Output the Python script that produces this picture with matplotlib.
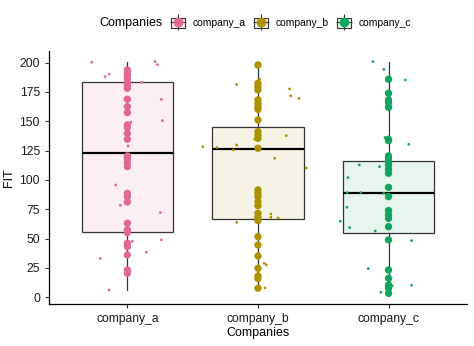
import numpy as np
import matplotlib.pyplot as plt
from matplotlib.colors import to_rgba
from matplotlib.lines import Line2D
from matplotlib.patches import Patch

plt.rcParams['font.family'] = ['Liberation Sans', 'DejaVu Sans']

companies = ['company_a', 'company_b', 'company_c']
colors = ['#E0698F', '#AD9200', '#0FA55F']

# box statistics
q1 = [55.9, 67.0, 54.5]
med = [122.6, 126.4, 88.6]
q3 = [183.2, 145.1, 116.4]
whislo = [6.2, 7.7, 1.1]
whishi = [200.3, 198.0, 200.3]

# big centred dots (dotplot)
dots_a = [193.8, 191.5, 189.2, 185.8, 182.4, 180.1, 178.1, 168.8, 162.5, 157.4,
          146.9, 144.9, 139.8, 134.7, 120.5, 118.2, 114.8, 111.4, 88.6, 85.8,
          81.2, 63.1, 57.4, 55.1, 46.0, 43.2, 36.1, 23.3, 20.5]
dots_b = [198.0, 182.4, 179.6, 176.7, 168.2, 165.3, 162.5, 160.2, 151.1, 141.2,
          138.4, 135.5, 127.0, 91.5, 88.6, 85.8, 81.5, 78.1, 71.6, 68.2, 65.3,
          51.7, 44.6, 35.2, 24.7, 18.2, 15.9, 7.7]
dots_c = [185.8, 173.9, 168.2, 165.9, 161.9, 134.7, 133.5, 120.5, 118.5, 115.6,
          112.8, 109.1, 105.7, 93.7, 85.8, 73.9, 70.2, 67.3, 60.2, 48.9, 23.3,
          16.2, 10.5, 7.7, 3.4]

# small jittered points: horizontal jitter offset and value
jit_a_off = [-0.272, 0.212, 0.23, -0.171, -0.140, 0.110, 0.260, 0.268, 0.026, 0.005,
             -0.089, -0.054, 0.253, 0.038, 0.26, 0.146, -0.207, -0.140]
jit_a_val = [200.3, 200.9, 198.3, 188.1, 190.1, 183.2, 168.8, 150.6, 149.1, 129.0,
             95.7, 78.4, 72.2, 47.7, 48.9, 38.4, 33.2, 6.2]
jit_b_off = [-0.163, 0.013, 0.242, 0.252, 0.314, 0.217, -0.025, -0.423, -0.314, -0.163,
             -0.189, 0.128, 0.370, 0.099, 0.099, 0.155, -0.163, 0.048, 0.064, 0.054]
jit_b_val = [181.3, 185.8, 177.6, 171.6, 169.6, 137.8, 134.7, 128.4, 127.6, 129.8,
             125.6, 118.5, 110.2, 71.0, 68.2, 67.6, 63.9, 29.0, 27.6, 8.0]
jit_c_off = [-0.12, -0.036, 0.128, -0.028, 0.155, -0.224, -0.069, -0.311, -0.316, -0.212,
             -0.036, -0.319, -0.370, -0.298, -0.102, 0.176, -0.155, 0.176, -0.059, 0.028]
jit_c_val = [200.9, 194.3, 185.2, 136.1, 130.4, 112.8, 111.4, 102.0, 89.2, 89.2,
             88.6, 76.7, 64.8, 59.4, 56.5, 48.3, 24.4, 10.2, 4.3, 9.7]

dots = [dots_a, dots_b, dots_c]
jit_off = [jit_a_off, jit_b_off, jit_c_off]
jit_val = [jit_a_val, jit_b_val, jit_c_val]

fig = plt.figure(figsize=(4.74, 3.46), dpi=100)
ax = fig.add_axes([0.1034, 0.1205, 0.8816, 0.7324])

pos = np.arange(1, len(companies) + 1)
stats = [dict(q1=q1[i], med=med[i], q3=q3[i], whislo=whislo[i], whishi=whishi[i], fliers=[])
         for i in range(len(companies))]
bp = ax.bxp(stats, positions=pos, widths=0.7, showcaps=False, patch_artist=True,
            boxprops=dict(edgecolor='#333333', linewidth=0.9),
            whiskerprops=dict(color='#333333', linewidth=0.9),
            medianprops=dict(color='black', linewidth=1.6), zorder=1)
for box, c in zip(bp['boxes'], colors):
    box.set_facecolor(to_rgba(c, 0.1))

for i in range(len(companies)):
    ax.scatter(np.full(len(dots[i]), pos[i]), dots[i], s=28, color=colors[i],
               edgecolors='none', zorder=3)
    ax.scatter(pos[i] + np.array(jit_off[i]), jit_val[i], s=4, color=colors[i],
               edgecolors='none', zorder=4)

ax.set_xlim(0.4, 3.6)
ax.set_ylim(-6, 210)
ax.set_yticks(np.arange(0, 201, 25))
ax.set_xticks(pos)
ax.set_xticklabels(companies)
ax.tick_params(labelsize=8.7, colors='#333333', length=3, width=0.8)
ax.tick_params(axis='x', labelcolor='#1a1a1a')
ax.tick_params(axis='y', labelcolor='#1a1a1a')
for s in ['top', 'right']:
    ax.spines[s].set_visible(False)
for s in ['left', 'bottom']:
    ax.spines[s].set_linewidth(0.9)
ax.set_xlabel('Companies', fontsize=9, labelpad=1)
ax.set_ylabel('FIT', fontsize=9, labelpad=3)

# legend on top, title inline
handles = []
for c in colors:
    handles.append((Patch(facecolor=to_rgba(c, 0.1), edgecolor='#333333', linewidth=0.8),
                    Line2D([], [], marker='|', markersize=12, color='#333333', ls='', mew=0.8),
                    Line2D([], [], marker='_', markersize=11, color='#333333', ls='', mew=0.8),
                    Line2D([], [], marker='o', markersize=6, color=c, ls='')))
fig.text(163 / 474, 1 - 23 / 346, 'Companies', fontsize=9, ha='right', va='center')
fig.legend(handles, companies, loc='center left', bbox_to_anchor=(171 / 474, 1 - 23 / 346),
           ncol=3, frameon=False, fontsize=7.4, handlelength=1.4, handleheight=1.2,
           handletextpad=0.7, columnspacing=0.8, borderpad=0, borderaxespad=0)

fig.savefig('out.png', dpi=100)
